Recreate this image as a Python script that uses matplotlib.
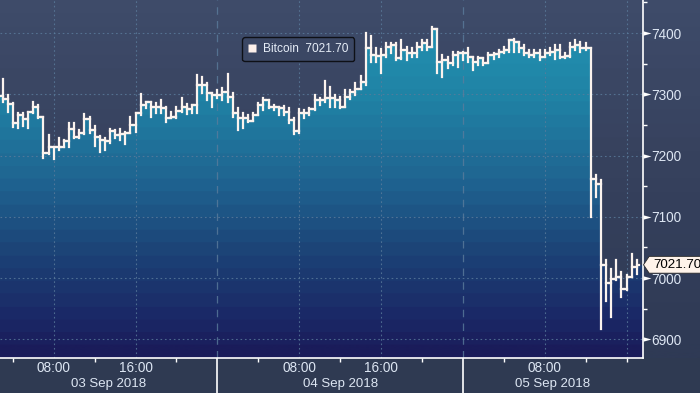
import numpy as np
import pandas as pd
import matplotlib
matplotlib.use('Agg')
import matplotlib.pyplot as plt
import matplotlib.dates as mdates
from matplotlib.collections import LineCollection
from matplotlib.colors import LinearSegmentedColormap
from matplotlib.lines import Line2D
from matplotlib.patches import Polygon
from matplotlib.transforms import blended_transform_factory, ScaledTranslation, Affine2D

plt.rcParams['font.family'] = ['Liberation Sans', 'DejaVu Sans']

# ---------------- data ----------------
series_name = 'Bitcoin'
last_value = 7021.70
bar_start = '2018-09-03 03:00'
bar_freq = '30min'
first_open = 7297.6

close = [7292.1, 7283.4, 7252.4, 7266.0, 7259.5, 7270.4, 7279.6, 7262.2, 7204.4, 7214.3,
         7214.3, 7214.3, 7224.1, 7242.6, 7230.6, 7237.1, 7259.5, 7241.5, 7230.6, 7225.1,
         7224.1, 7240.4, 7233.3, 7236.0, 7237.1, 7249.7, 7268.7, 7282.3, 7287.8, 7279.6,
         7279.6, 7276.9, 7260.6, 7262.2, 7272.5, 7279.6, 7275.3, 7282.3, 7315.0, 7315.0,
         7301.4, 7298.7, 7298.7, 7304.1, 7296.0, 7269.8, 7260.6,
         7260.6, 7256.7, 7266.0, 7282.3, 7290.5, 7279.6, 7278.5, 7276.9, 7271.4, 7257.8,
         7239.9, 7268.7, 7268.7, 7275.3, 7290.5, 7290.5, 7293.2, 7293.2, 7290.5, 7279.6,
         7296.0, 7304.1, 7307.9, 7320.5, 7374.9, 7364.0, 7362.4, 7364.0, 7377.7, 7380.4,
         7358.6, 7372.2, 7366.8, 7366.8, 7376.6, 7384.2, 7376.6, 7406.5, 7353.2, 7355.9,
         7350.4, 7364.0, 7366.8,
         7366.8, 7361.3, 7353.2, 7358.6, 7350.4, 7364.0, 7365.7, 7369.5, 7372.2, 7388.6,
         7385.8, 7374.9, 7366.8, 7364.0, 7366.8, 7361.3, 7367.9, 7369.5, 7372.2, 7361.3,
         7362.4, 7377.7, 7380.4, 7374.9, 7374.9,
         7161.4, 7153.3, 7020.9, 6992.0, 6999.2, 7001.9, 6982.8, 7002.0, 7018.2, 7021.7]

high = [7324.8, 7298.7, 7285.1, 7268.7, 7268.7, 7271.4, 7287.8, 7282.3, 7263.3, 7233.3,
        7214.3, 7229.5, 7225.1, 7253.5, 7252.4, 7241.5, 7267.1, 7262.2, 7248.0, 7231.7,
        7227.9, 7242.6, 7241.5, 7242.6, 7238.8, 7263.3, 7268.7, 7299.8, 7287.8, 7287.8,
        7286.2, 7290.5, 7279.6, 7270.4, 7279.6, 7293.2, 7284.0, 7282.3, 7330.8, 7327.6,
        7317.8, 7301.4, 7306.9, 7309.6, 7333.0, 7302.5, 7276.9,
        7268.7, 7266.0, 7268.7, 7285.1, 7293.2, 7290.5, 7282.3, 7279.6, 7280.7, 7276.9,
        7260.6, 7275.3, 7274.2, 7276.9, 7298.7, 7293.2, 7321.6, 7312.3, 7298.7, 7296.0,
        7306.9, 7306.9, 7317.8, 7329.7, 7399.5, 7395.1, 7374.9, 7373.3, 7383.1, 7384.2,
        7383.1, 7388.6, 7377.7, 7374.9, 7383.1, 7388.6, 7388.6, 7409.3, 7406.5, 7364.0,
        7361.3, 7369.5, 7369.5,
        7369.5, 7374.9, 7361.3, 7361.3, 7358.6, 7366.8, 7366.8, 7372.2, 7377.7, 7388.6,
        7389.7, 7383.1, 7380.4, 7372.2, 7372.2, 7372.2, 7372.2, 7374.9, 7380.4, 7380.4,
        7366.8, 7383.1, 7388.6, 7385.8, 7383.1,
        7376.0, 7168.0, 7159.8, 7029.1, 7015.4, 7030.1, 7010.1, 7005.0, 7038.9, 7030.1]

low = [7287.8, 7271.4, 7246.9, 7245.3, 7248.0, 7244.2, 7268.7, 7260.6, 7196.8, 7202.3,
       7195.2, 7208.8, 7214.3, 7214.3, 7227.9, 7227.9, 7236.0, 7237.1, 7215.3, 7206.1,
       7209.9, 7220.8, 7227.9, 7226.2, 7219.7, 7238.8, 7238.8, 7266.0, 7276.9, 7262.2,
       7268.7, 7268.7, 7254.0, 7260.6, 7260.6, 7271.4, 7267.6, 7268.7, 7268.7, 7301.4,
       7290.5, 7279.6, 7293.2, 7290.5, 7287.8, 7263.3, 7241.5,
       7244.2, 7255.1, 7257.8, 7266.0, 7274.2, 7276.9, 7274.2, 7266.0, 7266.0, 7252.4,
       7236.0, 7237.1, 7260.6, 7266.0, 7274.2, 7282.3, 7287.8, 7279.6, 7279.6, 7276.9,
       7278.5, 7292.1, 7298.7, 7311.2, 7315.0, 7353.2, 7353.2, 7334.1, 7361.3, 7366.8,
       7355.9, 7357.0, 7355.9, 7361.3, 7361.3, 7372.2, 7372.2, 7376.6, 7335.2, 7327.6,
       7342.3, 7347.7, 7345.0,
       7355.9, 7353.2, 7339.5, 7347.7, 7347.7, 7350.4, 7357.0, 7361.3, 7366.8, 7369.5,
       7369.5, 7369.5, 7364.0, 7361.3, 7361.3, 7355.9, 7361.3, 7364.0, 7357.0, 7358.6,
       7358.6, 7361.3, 7372.2, 7369.5, 7372.2,
       7099.9, 7132.5, 6917.5, 6962.6, 6936.4, 6996.4, 6969.2, 6980.1, 7002.0, 7007.4]

y_ticks = [6900, 7000, 7100, 7200, 7300, 7400]
y_minor = [6950, 7050, 7150, 7250, 7350, 7450]
y_range = (6869, 7454)

time_label_pos = ['2018-09-03 08:00', '2018-09-03 16:00', '2018-09-04 08:00',
                  '2018-09-04 16:00', '2018-09-05 08:00']
time_labels = ['08:00', '16:00', '08:00', '16:00', '08:00']
grid_pos = time_label_pos + ['2018-09-05 16:00']
minor_tick_pos = ['2018-09-03 04:00', '2018-09-03 12:00', '2018-09-03 20:00',
                  '2018-09-04 04:00', '2018-09-04 12:00', '2018-09-04 20:00',
                  '2018-09-05 04:00', '2018-09-05 12:00', '2018-09-05 16:00']
day_starts = ['2018-09-03', '2018-09-04', '2018-09-05', '2018-09-06']
day_labels = ['03 Sep 2018', '04 Sep 2018', '05 Sep 2018']
x_range = ('2018-09-03 02:45', '2018-09-05 17:35')

# ---------------- styling ----------------
W, H = 700, 393
BAR_C = '#fbf3ee'
TXT_C = '#dde6f3'
GRID_C = '#5b7c9c'
FS = 9.8

fig = plt.figure(figsize=(W / 100, H / 100), dpi=100, facecolor='#2f3a52')
ax_l, ax_b = 0.0, 34.7 / H
ax_w, ax_h = 642.7 / W, 358.3 / H

# background gradient (plot area + right label area)
bg = fig.add_axes([0, ax_b, 1, ax_h], zorder=-5)
bg.set_axis_off()
bg_cmap = LinearSegmentedColormap.from_list('bg', ['#2f3a55', '#36415d', '#3f4c6a'])
nb = 26
g = np.floor(np.linspace(0, 1, 400) * nb) / nb
bg.imshow(g[:, None], aspect='auto', cmap=bg_cmap, origin='lower', extent=[0, 1, 0, 1],
          vmin=0, vmax=1)

ax = fig.add_axes([ax_l, ax_b, ax_w, ax_h])
ax.set_facecolor('none')

times = pd.date_range(bar_start, periods=len(close), freq=bar_freq)
x = mdates.date2num(times)
c = np.asarray(close)
o = np.r_[first_open, c[:-1]]
hi = np.maximum.reduce([np.asarray(high), o, c])
lo = np.minimum.reduce([np.asarray(low), o, c])
half = 15 / 1440.0

x0, x1 = mdates.date2num(pd.to_datetime(list(x_range)))
ax.set_xlim(x0, x1)
ax.set_ylim(*y_range)

# gradient fill under the close step line
xs = np.r_[x0, x, x1]
ys = np.r_[first_open, c, c[-1]]
poly = ax.fill_between(xs, ys, y_range[0], step='post', facecolor='none', edgecolor='none')
fill_cmap = LinearSegmentedColormap.from_list('fill', [
    (0.0, '#1a1c5a'), (0.106, '#1b2a68'), (0.274, '#1c4276'), (0.469, '#1f6390'),
    (0.721, '#2084a6'), (0.916, '#2290b1'), (1.0, '#2394b3')])
nf = 28
gf = np.floor(np.linspace(0, 1, 400) * nf) / nf
im = ax.imshow(gf[:, None], aspect='auto', cmap=fill_cmap, origin='lower',
               extent=[x0, x1, y_range[0], y_range[1]], vmin=0, vmax=1, zorder=1)
im.set_clip_path(poly.get_paths()[0], ax.transData)

# grid
gx = mdates.date2num(pd.to_datetime(grid_pos))
ax.vlines(gx, *y_range, colors=GRID_C, linestyles=(0, (1.5, 2.5)), linewidth=0.8, alpha=0.8, zorder=2)
ax.hlines(y_ticks, x0, x1, colors=GRID_C, linestyles=(0, (1.5, 2.5)), linewidth=0.8, alpha=0.8, zorder=2)
db = mdates.date2num(pd.to_datetime(day_starts[1:3]))
ax.vlines(db, *y_range, colors=GRID_C, linestyles=(0, (6, 5)), linewidth=0.9, alpha=0.8, zorder=2)

# OHLC bars
segs = []
for xi, oi, hii, loi, ci in zip(x, o, hi, lo, c):
    segs.append([(xi, loi), (xi, hii)])
    segs.append([(xi - half, oi), (xi, oi)])
    segs.append([(xi, ci), (xi + half, ci)])
lc = LineCollection(segs, colors=BAR_C, linewidths=1.6, capstyle='projecting', zorder=4)
ax.add_collection(lc)

# spines
for s in ['top', 'left']:
    ax.spines[s].set_visible(False)
for s in ['right', 'bottom']:
    ax.spines[s].set_color('white')
    ax.spines[s].set_linewidth(1.2)

# y axis (right)
ax.yaxis.tick_right()
ax.set_yticks(y_ticks)
ax.set_yticklabels([str(v) for v in y_ticks])
ax.set_yticks(y_minor, minor=True)
ax.tick_params(axis='y', which='major', length=0, pad=6.5, labelsize=FS, labelcolor=TXT_C)
ax.tick_params(axis='y', which='minor', length=2.6, width=1.0, color='white', direction='out')
ytrans = blended_transform_factory(ax.transAxes, ax.transData)
tri = [(0, -0.55), (0, 0.55), (2.0, 0)]
ax.plot(np.ones(len(y_ticks)), y_ticks, ls='', marker=tri, ms=11.5, color='white',
        mec='none', transform=ytrans, clip_on=False, zorder=6)

# x axis
ax.set_xticks(db)
ax.set_xticklabels([''] * len(db))
ax.set_xticks(mdates.date2num(pd.to_datetime(minor_tick_pos)), minor=True)
ax.tick_params(axis='x', which='major', length=25.5, width=1.2, color='white', direction='out')
ax.tick_params(axis='x', which='minor', length=2.6, width=1.0, color='white', direction='out')
xtrans = blended_transform_factory(ax.transData, ax.transAxes)
for pos, lab in zip(mdates.date2num(pd.to_datetime(time_label_pos)), time_labels):
    ax.annotate(lab, xy=(pos, 0), xycoords=xtrans, xytext=(0, -7.0), textcoords='offset points',
                ha='center', va='center', fontsize=FS, color=TXT_C, annotation_clip=False)
dnum = mdates.date2num(pd.to_datetime(day_starts))
for i, lab in enumerate(day_labels):
    a, b = max(dnum[i], x0), min(dnum[i + 1], x1)
    ax.annotate(lab, xy=((a + b) / 2, 0), xycoords=xtrans, xytext=(0, -18.8),
                textcoords='offset points', ha='center', va='center', fontsize=9.5,
                color=TXT_C, annotation_clip=False)

# last value tag (pentagon pointing to the axis)
tag_c = '#fff3ea'
px = Affine2D().scale(fig.dpi / 100.0)
tag_trans = px + ScaledTranslation(1, last_value, ytrans)
tag = Polygon([(0.8, 0), (6.5, 8.4), (60, 8.4), (60, -8.4), (6.5, -8.4)], closed=True,
              fc=tag_c, ec='#2a2a2a', lw=0.6, transform=tag_trans, clip_on=False, zorder=8)
ax.add_patch(tag)
ax.annotate(f'{last_value:.2f}', xy=(1, last_value), xycoords=ytrans, xytext=(7.4, 0),
            textcoords='offset points', ha='left', va='center', fontsize=9.6, color='black',
            annotation_clip=False, zorder=9)

# legend
handle = Line2D([], [], ls='', marker='s', ms=5.8, mfc='#fdf0ea', mec='none')
leg = ax.legend([handle], [f'{series_name}  {last_value:.2f}'], loc='upper left',
                bbox_to_anchor=(0.377, 0.896), frameon=True, fancybox=True,
                facecolor='#3b4764', edgecolor='#0e1016', framealpha=1, fontsize=8.6,
                labelcolor='#e6edf7', handlelength=0.6, handletextpad=0.6, borderpad=0.5,
                borderaxespad=0)
leg.get_frame().set_linewidth(1.0)
leg.set_zorder(9)

fig.savefig('out.png', dpi=100, facecolor=fig.get_facecolor())
